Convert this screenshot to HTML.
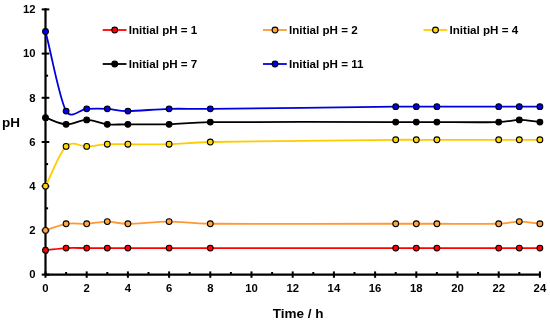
<!DOCTYPE html>
<html><head><meta charset="utf-8"><title>pH vs Time</title>
<style>
html,body{margin:0;padding:0;background:#fff;}
svg{display:block;}
text{font-family:"Liberation Sans",Arial,sans-serif;font-weight:bold;fill:#000;}
</style></head><body>
<svg width="550" height="321" viewBox="0 0 550 321">
<rect width="550" height="321" fill="#fff"/>

<g stroke="#000" stroke-width="2.2" fill="none" stroke-linecap="butt">
<path d="M45.50 8.30 V274.60 H541.00"/>
</g><g stroke="#000" stroke-width="2" fill="none">
<path d="M41.70 274.60 H49.30"/>
<path d="M45.50 252.50 H48.10"/>
<path d="M41.70 230.40 H49.30"/>
<path d="M45.50 208.30 H48.10"/>
<path d="M41.70 186.20 H49.30"/>
<path d="M45.50 164.10 H48.10"/>
<path d="M41.70 142.00 H49.30"/>
<path d="M45.50 119.90 H48.10"/>
<path d="M41.70 97.80 H49.30"/>
<path d="M45.50 75.70 H48.10"/>
<path d="M41.70 53.60 H49.30"/>
<path d="M45.50 31.50 H48.10"/>
<path d="M41.70 9.40 H49.30"/>
<path d="M45.50 271.40 V277.80"/>
<path d="M66.10 272.00 V274.60"/>
<path d="M86.70 271.40 V277.80"/>
<path d="M107.30 272.00 V274.60"/>
<path d="M127.90 271.40 V277.80"/>
<path d="M148.50 272.00 V274.60"/>
<path d="M169.10 271.40 V277.80"/>
<path d="M189.70 272.00 V274.60"/>
<path d="M210.30 271.40 V277.80"/>
<path d="M230.90 272.00 V274.60"/>
<path d="M251.50 271.40 V277.80"/>
<path d="M272.10 272.00 V274.60"/>
<path d="M292.70 271.40 V277.80"/>
<path d="M313.30 272.00 V274.60"/>
<path d="M333.90 271.40 V277.80"/>
<path d="M354.50 272.00 V274.60"/>
<path d="M375.10 271.40 V277.80"/>
<path d="M395.70 272.00 V274.60"/>
<path d="M416.30 271.40 V277.80"/>
<path d="M436.90 272.00 V274.60"/>
<path d="M457.50 271.40 V277.80"/>
<path d="M478.10 272.00 V274.60"/>
<path d="M498.70 271.40 V277.80"/>
<path d="M519.30 272.00 V274.60"/>
<path d="M539.90 271.40 V277.80"/>
</g>
<g font-size="11.3px">
<text x="35.6" y="278.4" text-anchor="end">0</text>
<text x="35.6" y="234.2" text-anchor="end">2</text>
<text x="35.6" y="190.0" text-anchor="end">4</text>
<text x="35.6" y="145.8" text-anchor="end">6</text>
<text x="35.6" y="101.6" text-anchor="end">8</text>
<text x="35.6" y="57.4" text-anchor="end">10</text>
<text x="35.6" y="13.2" text-anchor="end">12</text>
<text x="45.5" y="292.4" text-anchor="middle">0</text>
<text x="86.7" y="292.4" text-anchor="middle">2</text>
<text x="127.9" y="292.4" text-anchor="middle">4</text>
<text x="169.1" y="292.4" text-anchor="middle">6</text>
<text x="210.3" y="292.4" text-anchor="middle">8</text>
<text x="251.5" y="292.4" text-anchor="middle">10</text>
<text x="292.7" y="292.4" text-anchor="middle">12</text>
<text x="333.9" y="292.4" text-anchor="middle">14</text>
<text x="375.1" y="292.4" text-anchor="middle">16</text>
<text x="416.3" y="292.4" text-anchor="middle">18</text>
<text x="457.5" y="292.4" text-anchor="middle">20</text>
<text x="498.7" y="292.4" text-anchor="middle">22</text>
<text x="539.9" y="292.4" text-anchor="middle">24</text>
</g>
<text x="1.9" y="127" font-size="13.5px">pH</text>
<text x="298.2" y="317.6" font-size="13.5px" text-anchor="middle">Time / h</text>
<g>
<path d="M45.50 250.29 C52.37 249.55 59.23 248.45 66.10 248.08 C72.97 247.71 79.83 248.08 86.70 248.08 C93.57 248.08 100.43 248.08 107.30 248.08 C114.17 248.08 117.60 248.08 127.90 248.08 C138.20 248.08 155.37 248.08 169.10 248.08 C182.83 248.08 189.70 248.08 210.30 248.08 C248.07 248.08 361.37 248.08 395.70 248.08 C406.00 248.08 409.43 248.08 416.30 248.08 C423.17 248.08 426.60 248.08 436.90 248.08 C450.63 248.08 484.97 248.08 498.70 248.08 C509.00 248.08 512.43 248.08 519.30 248.08 C526.17 248.08 533.03 248.08 539.90 248.08" fill="none" stroke="#ff0000" stroke-width="1.8" stroke-linejoin="round"/>
<circle cx="45.50" cy="250.29" r="2.9" fill="#ff0000" stroke="#000" stroke-width="1.05"/>
<circle cx="66.10" cy="248.08" r="2.9" fill="#ff0000" stroke="#000" stroke-width="1.05"/>
<circle cx="86.70" cy="248.08" r="2.9" fill="#ff0000" stroke="#000" stroke-width="1.05"/>
<circle cx="107.30" cy="248.08" r="2.9" fill="#ff0000" stroke="#000" stroke-width="1.05"/>
<circle cx="127.90" cy="248.08" r="2.9" fill="#ff0000" stroke="#000" stroke-width="1.05"/>
<circle cx="169.10" cy="248.08" r="2.9" fill="#ff0000" stroke="#000" stroke-width="1.05"/>
<circle cx="210.30" cy="248.08" r="2.9" fill="#ff0000" stroke="#000" stroke-width="1.05"/>
<circle cx="395.70" cy="248.08" r="2.9" fill="#ff0000" stroke="#000" stroke-width="1.05"/>
<circle cx="416.30" cy="248.08" r="2.9" fill="#ff0000" stroke="#000" stroke-width="1.05"/>
<circle cx="436.90" cy="248.08" r="2.9" fill="#ff0000" stroke="#000" stroke-width="1.05"/>
<circle cx="498.70" cy="248.08" r="2.9" fill="#ff0000" stroke="#000" stroke-width="1.05"/>
<circle cx="519.30" cy="248.08" r="2.9" fill="#ff0000" stroke="#000" stroke-width="1.05"/>
<circle cx="539.90" cy="248.08" r="2.9" fill="#ff0000" stroke="#000" stroke-width="1.05"/>
</g>
<g>
<path d="M45.50 230.40 C52.37 228.19 59.23 224.88 66.10 223.77 C72.97 222.67 79.83 224.14 86.70 223.77 C93.57 223.40 100.43 221.56 107.30 221.56 C114.17 221.56 117.60 223.77 127.90 223.77 C138.20 223.77 155.37 221.56 169.10 221.56 C182.83 221.56 189.67 223.57 210.30 223.77 C248.07 224.14 361.37 223.77 395.70 223.77 C406.00 223.77 409.43 223.77 416.30 223.77 C423.17 223.77 426.60 223.77 436.90 223.77 C450.63 223.77 484.97 224.14 498.70 223.77 C509.06 223.49 512.43 221.56 519.30 221.56 C526.17 221.56 533.03 223.03 539.90 223.77" fill="none" stroke="#ff9933" stroke-width="1.8" stroke-linejoin="round"/>
<circle cx="45.50" cy="230.40" r="2.9" fill="#ffa640" stroke="#000" stroke-width="1.05"/>
<circle cx="66.10" cy="223.77" r="2.9" fill="#ffa640" stroke="#000" stroke-width="1.05"/>
<circle cx="86.70" cy="223.77" r="2.9" fill="#ffa640" stroke="#000" stroke-width="1.05"/>
<circle cx="107.30" cy="221.56" r="2.9" fill="#ffa640" stroke="#000" stroke-width="1.05"/>
<circle cx="127.90" cy="223.77" r="2.9" fill="#ffa640" stroke="#000" stroke-width="1.05"/>
<circle cx="169.10" cy="221.56" r="2.9" fill="#ffa640" stroke="#000" stroke-width="1.05"/>
<circle cx="210.30" cy="223.77" r="2.9" fill="#ffa640" stroke="#000" stroke-width="1.05"/>
<circle cx="395.70" cy="223.77" r="2.9" fill="#ffa640" stroke="#000" stroke-width="1.05"/>
<circle cx="416.30" cy="223.77" r="2.9" fill="#ffa640" stroke="#000" stroke-width="1.05"/>
<circle cx="436.90" cy="223.77" r="2.9" fill="#ffa640" stroke="#000" stroke-width="1.05"/>
<circle cx="498.70" cy="223.77" r="2.9" fill="#ffa640" stroke="#000" stroke-width="1.05"/>
<circle cx="519.30" cy="221.56" r="2.9" fill="#ffa640" stroke="#000" stroke-width="1.05"/>
<circle cx="539.90" cy="223.77" r="2.9" fill="#ffa640" stroke="#000" stroke-width="1.05"/>
</g>
<g>
<path d="M45.50 186.20 C52.37 172.94 59.23 153.05 66.10 146.42 C72.97 139.79 79.83 146.79 86.70 146.42 C93.57 146.05 100.43 144.58 107.30 144.21 C114.17 143.84 117.60 144.21 127.90 144.21 C138.20 144.21 155.37 144.58 169.10 144.21 C182.83 143.84 189.67 142.40 210.30 142.00 C248.07 141.26 361.37 140.16 395.70 139.79 C406.00 139.68 409.43 139.79 416.30 139.79 C423.17 139.79 426.60 139.79 436.90 139.79 C450.63 139.79 484.97 139.79 498.70 139.79 C509.00 139.79 512.43 139.79 519.30 139.79 C526.17 139.79 533.03 139.79 539.90 139.79" fill="none" stroke="#ffcc00" stroke-width="1.8" stroke-linejoin="round"/>
<circle cx="45.50" cy="186.20" r="2.9" fill="#ffd60a" stroke="#000" stroke-width="1.05"/>
<circle cx="66.10" cy="146.42" r="2.9" fill="#ffd60a" stroke="#000" stroke-width="1.05"/>
<circle cx="86.70" cy="146.42" r="2.9" fill="#ffd60a" stroke="#000" stroke-width="1.05"/>
<circle cx="107.30" cy="144.21" r="2.9" fill="#ffd60a" stroke="#000" stroke-width="1.05"/>
<circle cx="127.90" cy="144.21" r="2.9" fill="#ffd60a" stroke="#000" stroke-width="1.05"/>
<circle cx="169.10" cy="144.21" r="2.9" fill="#ffd60a" stroke="#000" stroke-width="1.05"/>
<circle cx="210.30" cy="142.00" r="2.9" fill="#ffd60a" stroke="#000" stroke-width="1.05"/>
<circle cx="395.70" cy="139.79" r="2.9" fill="#ffd60a" stroke="#000" stroke-width="1.05"/>
<circle cx="416.30" cy="139.79" r="2.9" fill="#ffd60a" stroke="#000" stroke-width="1.05"/>
<circle cx="436.90" cy="139.79" r="2.9" fill="#ffd60a" stroke="#000" stroke-width="1.05"/>
<circle cx="498.70" cy="139.79" r="2.9" fill="#ffd60a" stroke="#000" stroke-width="1.05"/>
<circle cx="519.30" cy="139.79" r="2.9" fill="#ffd60a" stroke="#000" stroke-width="1.05"/>
<circle cx="539.90" cy="139.79" r="2.9" fill="#ffd60a" stroke="#000" stroke-width="1.05"/>
</g>
<g>
<path d="M45.50 117.69 C52.37 119.90 59.23 123.95 66.10 124.32 C72.97 124.69 79.83 119.90 86.70 119.90 C93.57 119.90 100.43 123.58 107.30 124.32 C114.17 125.06 117.60 124.32 127.90 124.32 C138.20 124.32 155.37 124.69 169.10 124.32 C182.83 123.95 189.67 122.31 210.30 122.11 C248.07 121.74 361.37 122.11 395.70 122.11 C406.00 122.11 409.43 122.11 416.30 122.11 C423.17 122.11 426.60 122.11 436.90 122.11 C450.63 122.11 484.97 122.48 498.70 122.11 C509.06 121.83 512.43 119.90 519.30 119.90 C526.17 119.90 533.03 121.37 539.90 122.11" fill="none" stroke="#000000" stroke-width="1.8" stroke-linejoin="round"/>
<circle cx="45.50" cy="117.69" r="2.9" fill="#000000" stroke="#000" stroke-width="1.05"/>
<circle cx="66.10" cy="124.32" r="2.9" fill="#000000" stroke="#000" stroke-width="1.05"/>
<circle cx="86.70" cy="119.90" r="2.9" fill="#000000" stroke="#000" stroke-width="1.05"/>
<circle cx="107.30" cy="124.32" r="2.9" fill="#000000" stroke="#000" stroke-width="1.05"/>
<circle cx="127.90" cy="124.32" r="2.9" fill="#000000" stroke="#000" stroke-width="1.05"/>
<circle cx="169.10" cy="124.32" r="2.9" fill="#000000" stroke="#000" stroke-width="1.05"/>
<circle cx="210.30" cy="122.11" r="2.9" fill="#000000" stroke="#000" stroke-width="1.05"/>
<circle cx="395.70" cy="122.11" r="2.9" fill="#000000" stroke="#000" stroke-width="1.05"/>
<circle cx="416.30" cy="122.11" r="2.9" fill="#000000" stroke="#000" stroke-width="1.05"/>
<circle cx="436.90" cy="122.11" r="2.9" fill="#000000" stroke="#000" stroke-width="1.05"/>
<circle cx="498.70" cy="122.11" r="2.9" fill="#000000" stroke="#000" stroke-width="1.05"/>
<circle cx="519.30" cy="119.90" r="2.9" fill="#000000" stroke="#000" stroke-width="1.05"/>
<circle cx="539.90" cy="122.11" r="2.9" fill="#000000" stroke="#000" stroke-width="1.05"/>
</g>
<g>
<path d="M45.50 31.50 C52.37 58.02 59.23 98.17 66.10 111.06 C70.97 120.20 79.83 109.22 86.70 108.85 C93.57 108.48 100.43 108.48 107.30 108.85 C114.17 109.22 117.60 111.06 127.90 111.06 C138.20 111.06 155.37 109.22 169.10 108.85 C182.83 108.48 189.70 109.05 210.30 108.85 C248.07 108.48 361.37 107.01 395.70 106.64 C406.00 106.53 409.43 106.64 416.30 106.64 C423.17 106.64 426.60 106.64 436.90 106.64 C450.63 106.64 484.97 106.64 498.70 106.64 C509.00 106.64 512.43 106.64 519.30 106.64 C526.17 106.64 533.03 106.64 539.90 106.64" fill="none" stroke="#0000dd" stroke-width="1.8" stroke-linejoin="round"/>
<circle cx="45.50" cy="31.50" r="2.9" fill="#0000e6" stroke="#000" stroke-width="1.05"/>
<circle cx="66.10" cy="111.06" r="2.9" fill="#0000e6" stroke="#000" stroke-width="1.05"/>
<circle cx="86.70" cy="108.85" r="2.9" fill="#0000e6" stroke="#000" stroke-width="1.05"/>
<circle cx="107.30" cy="108.85" r="2.9" fill="#0000e6" stroke="#000" stroke-width="1.05"/>
<circle cx="127.90" cy="111.06" r="2.9" fill="#0000e6" stroke="#000" stroke-width="1.05"/>
<circle cx="169.10" cy="108.85" r="2.9" fill="#0000e6" stroke="#000" stroke-width="1.05"/>
<circle cx="210.30" cy="108.85" r="2.9" fill="#0000e6" stroke="#000" stroke-width="1.05"/>
<circle cx="395.70" cy="106.64" r="2.9" fill="#0000e6" stroke="#000" stroke-width="1.05"/>
<circle cx="416.30" cy="106.64" r="2.9" fill="#0000e6" stroke="#000" stroke-width="1.05"/>
<circle cx="436.90" cy="106.64" r="2.9" fill="#0000e6" stroke="#000" stroke-width="1.05"/>
<circle cx="498.70" cy="106.64" r="2.9" fill="#0000e6" stroke="#000" stroke-width="1.05"/>
<circle cx="519.30" cy="106.64" r="2.9" fill="#0000e6" stroke="#000" stroke-width="1.05"/>
<circle cx="539.90" cy="106.64" r="2.9" fill="#0000e6" stroke="#000" stroke-width="1.05"/>
</g>
<g font-size="11.6px">
<path d="M102.7 30.0 h23.8" stroke="#ff0000" stroke-width="1.8"/>
<circle cx="114.7" cy="30.0" r="2.9" fill="#ff0000" stroke="#000" stroke-width="1.05"/>
<text x="128.7" y="33.9">Initial pH = 1</text>
<path d="M263.0 30.0 h23.8" stroke="#ff9933" stroke-width="1.8"/>
<circle cx="275.0" cy="30.0" r="2.9" fill="#ffa640" stroke="#000" stroke-width="1.05"/>
<text x="289.0" y="33.9">Initial pH = 2</text>
<path d="M423.5 30.0 h23.8" stroke="#ffcc00" stroke-width="1.8"/>
<circle cx="435.5" cy="30.0" r="2.9" fill="#ffd60a" stroke="#000" stroke-width="1.05"/>
<text x="449.5" y="33.9">Initial pH = 4</text>
<path d="M102.7 64.0 h23.8" stroke="#000000" stroke-width="1.8"/>
<circle cx="114.7" cy="64.0" r="2.9" fill="#000000" stroke="#000" stroke-width="1.05"/>
<text x="128.7" y="67.9">Initial pH = 7</text>
<path d="M263.0 64.0 h23.8" stroke="#0000dd" stroke-width="1.8"/>
<circle cx="275.0" cy="64.0" r="2.9" fill="#0000e6" stroke="#000" stroke-width="1.05"/>
<text x="289.0" y="67.9">Initial pH = 11</text>
</g>
</svg>
</body></html>
